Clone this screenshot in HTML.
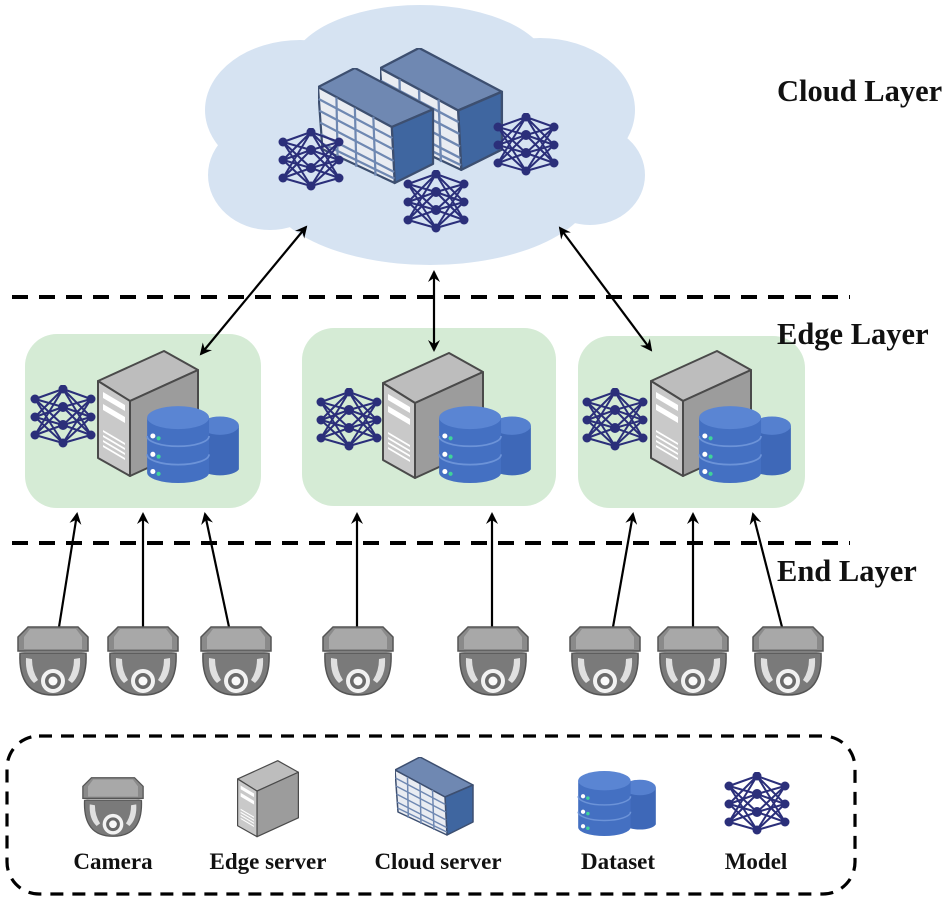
<!DOCTYPE html>
<html><head><meta charset="utf-8"><style>
html,body{margin:0;padding:0;background:#fff;}
svg{display:block;}
text{font-family:"Liberation Serif",serif;font-weight:bold;fill:#111;}
</style></head><body>
<svg width="950" height="903" viewBox="0 0 950 903" xmlns="http://www.w3.org/2000/svg">
<defs>
<marker id="ah" viewBox="0 0 12 12" refX="10" refY="6" markerWidth="12" markerHeight="12" markerUnits="userSpaceOnUse" orient="auto-start-reverse">
<path d="M0,0 L12,6 L0,12 L4,6 z" fill="#000"/>
</marker>
<symbol id="model" viewBox="0 0 66 64">
<g stroke="#2b2f7a" stroke-width="2" fill="none">
<path d="M5,14L33,4M5,14L33,22M5,14L33,40M5,14L33,58M5,32L33,4M5,32L33,22M5,32L33,40M5,32L33,58M5,50L33,4M5,50L33,22M5,50L33,40M5,50L33,58M61,14L33,4M61,14L33,22M61,14L33,40M61,14L33,58M61,32L33,4M61,32L33,22M61,32L33,40M61,32L33,58M61,50L33,4M61,50L33,22M61,50L33,40M61,50L33,58"/>
</g>
<g fill="#2b2f7a">
<circle cx="5" cy="14" r="4.5"/><circle cx="5" cy="32" r="4.5"/><circle cx="5" cy="50" r="4.5"/>
<circle cx="61" cy="14" r="4.5"/><circle cx="61" cy="32" r="4.5"/><circle cx="61" cy="50" r="4.5"/>
<circle cx="33" cy="4" r="4.5"/><circle cx="33" cy="22" r="5"/><circle cx="33" cy="40" r="5"/><circle cx="33" cy="58" r="4.5"/>
</g>
</symbol>
<symbol id="tower" viewBox="0 0 102 128">
<g stroke="#4a4a4a" stroke-width="2" stroke-linejoin="round">
<polygon points="1,31 67,1 101,20 33,51" fill="#bdbdbd"/>
<polygon points="1,31 33,51 33,126 1,108" fill="#c9c9c9"/>
<polygon points="33,51 101,20 101,95 33,126" fill="#9c9c9c"/>
</g>
<g fill="#fff">
<polygon points="6,42 28,55 28,61 6,48"/>
<polygon points="6,54 28,67 28,73 6,60"/>
<polygon points="6,80 28,93 28,95 6,82"/>
<polygon points="6,85 28,98 28,100 6,87"/>
<polygon points="6,90 28,103 28,105 6,92"/>
<polygon points="6,95 28,108 28,110 6,97"/>
</g>
</symbol>
<symbol id="db" viewBox="0 0 82 68">
<path d="M48,18 L48,56 A17,7 0 0 0 81,56 L81,18 z" fill="#3e68b8"/>
<ellipse cx="64.5" cy="18" rx="16.5" ry="8" fill="#5580cf"/>
<path d="M1,11 L1,59 A27,9 0 0 0 55,59 L55,11 z" fill="#4470c2"/>
<path d="M1,27 A27,9 0 0 0 55,27 M1,43 A27,9 0 0 0 55,43" stroke="#6c93d8" stroke-width="1.5" fill="none"/>
<ellipse cx="28" cy="11" rx="27" ry="10" fill="#5a85d3"/>
<circle cx="6" cy="27" r="2.2" fill="#fff"/><circle cx="11" cy="29" r="1.8" fill="#3fd39a"/>
<circle cx="6" cy="43" r="2.2" fill="#fff"/><circle cx="11" cy="45" r="1.8" fill="#3fd39a"/>
<circle cx="6" cy="58" r="2.2" fill="#fff"/><circle cx="11" cy="60" r="1.8" fill="#3fd39a"/>
</symbol>
<symbol id="cam" viewBox="0 0 74 72">
<path d="M4,28 H70 Q72,70 37,70 Q2,70 4,28z" fill="#7a7a7a" stroke="#555" stroke-width="1.5"/>
<path d="M10,33 Q9,50 18,58 L22,55 Q16,46 16,34z" fill="#e0e0e0"/>
<path d="M64,33 Q65,50 56,58 L52,55 Q58,46 58,34z" fill="#e0e0e0"/>
<path d="M3,27 Q37,20 71,27" stroke="#ddd" stroke-width="2" fill="none"/>
<polygon points="2,12 12,2 62,2 72,12 72,26 2,26" fill="#8a8a8a" stroke="#555" stroke-width="1.5"/>
<polygon points="14,4 60,4 66,12 66,24 8,24 8,12" fill="#a8a8a8"/>
<circle cx="37" cy="56" r="12" fill="#f2f2f2"/><circle cx="37" cy="56" r="8" fill="#6a6a6a"/><circle cx="37" cy="56" r="4.5" fill="#fafafa"/>
</symbol>
<symbol id="cloudsrv" viewBox="0 0 80 80">
<g stroke="#3d4f70" stroke-width="1.5" stroke-linejoin="round">
<polygon points="0,13 25,0 78,28 50,40" fill="#6f88b2"/>
<polygon points="50,40 78,28 78,65 52,78" fill="#3f66a0"/>
<polygon points="0,13 50,40 52,78 3,55" fill="#e9ecf2"/>
</g>
<g stroke="#6f88b2" stroke-width="1.5" fill="none">
<path d="M12.5,20 L13.3,61 M25,27 L26,67 M37.5,33 L39,73"/>
<path d="M0.5,21 L50.4,47.5 M1,29 L50.8,55 M1.5,37 L51.2,63 M2,45 L51.6,70.5 M2.5,51 L51.8,75"/>
</g>
</symbol>
</defs>

<g fill="#d6e3f2">
<ellipse cx="420" cy="70" rx="130" ry="65"/>
<ellipse cx="300" cy="110" rx="95" ry="70"/>
<ellipse cx="270" cy="175" rx="62" ry="55"/>
<ellipse cx="540" cy="110" rx="95" ry="72"/>
<ellipse cx="590" cy="175" rx="55" ry="50"/>
<ellipse cx="430" cy="185" rx="165" ry="80"/>
</g>

<use href="#cloudsrv" x="380" y="48" width="125" height="125"/>
<use href="#cloudsrv" x="318" y="68" width="118" height="118"/>
<use href="#model" x="278" y="128" width="66" height="64"/>
<use href="#model" x="403" y="170" width="66" height="64"/>
<use href="#model" x="493" y="113" width="66" height="64"/>

<g stroke="#000" stroke-width="4" stroke-dasharray="16,11">
<line x1="12" y1="297" x2="850" y2="297"/>
<line x1="12" y1="543" x2="850" y2="543"/>
</g>

<rect x="25" y="334" width="236" height="174" rx="32" fill="#d5ebd5"/>
<rect x="302" y="328" width="254" height="178" rx="32" fill="#d5ebd5"/>
<rect x="578" y="336" width="227" height="172" rx="32" fill="#d5ebd5"/>

<text x="777" y="101" font-size="30.5">Cloud Layer</text>
<text x="777" y="344" font-size="30.5">Edge Layer</text>
<text x="777" y="581" font-size="30.5">End Layer</text>

<use href="#model" x="30" y="385" width="66" height="64"/>
<use href="#tower" x="97" y="350" width="102" height="128"/>
<use href="#db" x="145" y="405" width="96" height="78"/>

<use href="#model" x="316" y="388" width="66" height="64"/>
<use href="#tower" x="382" y="352" width="102" height="128"/>
<use href="#db" x="437" y="405" width="96" height="78"/>

<use href="#model" x="582" y="388" width="66" height="64"/>
<use href="#tower" x="650" y="350" width="102" height="128"/>
<use href="#db" x="697" y="405" width="96" height="78"/>

<g stroke="#000" stroke-width="2.2" fill="none" marker-end="url(#ah)" marker-start="url(#ah)">
<line x1="306" y1="227" x2="201" y2="354"/>
<line x1="434" y1="272" x2="434" y2="350"/>
<line x1="560" y1="228" x2="651" y2="350"/>
</g>
<g stroke="#000" stroke-width="2.2" fill="none" marker-end="url(#ah)">
<line x1="59" y1="627" x2="77" y2="514"/>
<line x1="143" y1="627" x2="143" y2="514"/>
<line x1="229" y1="627" x2="205" y2="514"/>
<line x1="357" y1="627" x2="357" y2="514"/>
<line x1="492" y1="627" x2="492" y2="514"/>
<line x1="613" y1="627" x2="633" y2="514"/>
<line x1="693" y1="627" x2="693" y2="514"/>
<line x1="782" y1="627" x2="753" y2="514"/>
</g>

<use href="#cam" x="16" y="625" width="74" height="72"/>
<use href="#cam" x="106" y="625" width="74" height="72"/>
<use href="#cam" x="199" y="625" width="74" height="72"/>
<use href="#cam" x="321" y="625" width="74" height="72"/>
<use href="#cam" x="456" y="625" width="74" height="72"/>
<use href="#cam" x="568" y="625" width="74" height="72"/>
<use href="#cam" x="656" y="625" width="74" height="72"/>
<use href="#cam" x="751" y="625" width="74" height="72"/>

<rect x="7" y="736" width="848" height="158" rx="32" fill="none" stroke="#000" stroke-width="3.2" stroke-dasharray="13,9"/>
<use href="#cam" x="80" y="776" width="66" height="62"/>
<use href="#tower" x="237" y="760" width="62" height="78"/>
<use href="#cloudsrv" x="395" y="757" width="80" height="80"/>
<use href="#db" x="576" y="770" width="82" height="66"/>
<use href="#model" x="724" y="772" width="66" height="64"/>
<g font-size="23" text-anchor="middle">
<text x="113" y="869">Camera</text>
<text x="268" y="869">Edge server</text>
<text x="438" y="869">Cloud server</text>
<text x="618" y="869">Dataset</text>
<text x="756" y="869">Model</text>
</g>
</svg>
</body></html>
